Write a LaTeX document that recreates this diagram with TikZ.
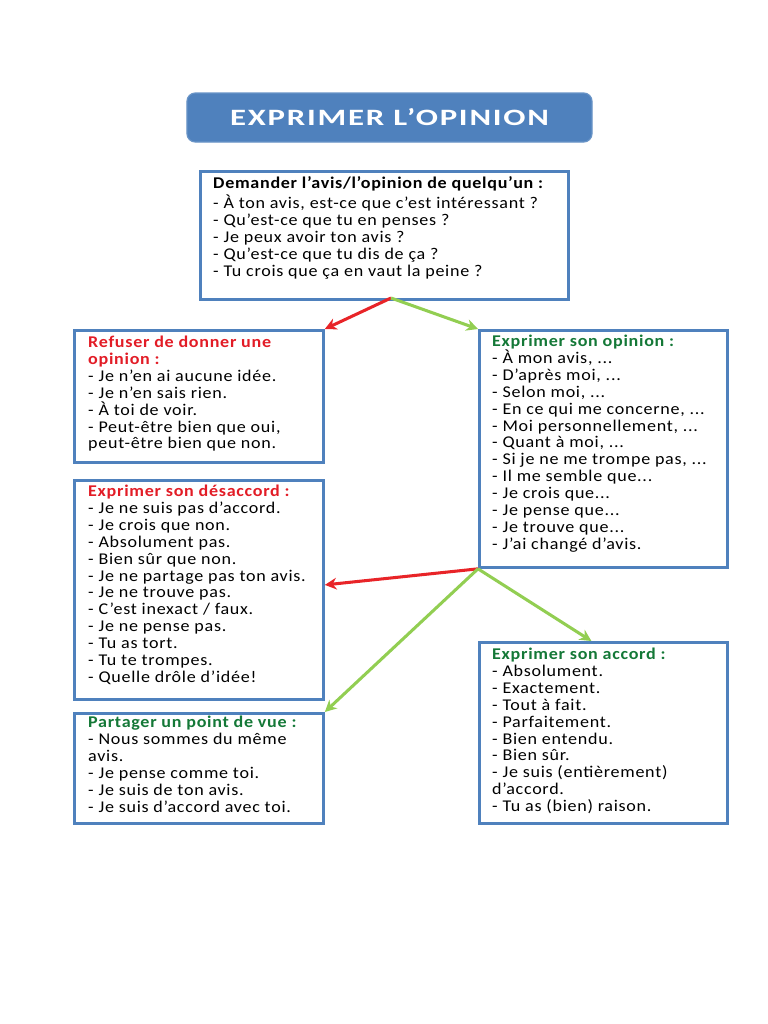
\documentclass[tikz,border=0pt]{standalone}
\usepackage{fontspec}
\setmainfont{Carlito}[FakeStretch=1.1,LetterSpace=4.4]
\newfontfamily\titlefont{Carlito}[FakeStretch=1.4,LetterSpace=7.5]
\usepackage{tikz}
\usetikzlibrary{arrows.meta}
\definecolor{boxblue}{RGB}{79,129,189}
\definecolor{hdred}{RGB}{226,28,38}
\definecolor{hdgreen}{RGB}{20,120,55}
\definecolor{arrred}{RGB}{232,36,40}
\definecolor{arrgreen}{RGB}{146,206,82}

\begin{document}
\begin{tikzpicture}[x=0.03cm,y=0.03cm]
\tikzstyle{every node}+=[inner sep=0pt]
\tikzstyle{panel}=[draw=boxblue,line width=2.4pt,anchor=north west]
\tikzstyle{body}=[anchor=north west,align=left,font=\fontsize{14}{14.4}\selectfont]
\tikzstyle{link}=[line width=2.6pt,-{Stealth[length=10pt,width=10pt]}]
\useasboundingbox (0,0) rectangle (768,-1024);
\node [fill=boxblue,draw=boxblue!85!white,line width=1pt,rounded corners=7pt,minimum width=12.15cm,minimum height=1.47cm,text=white,font=\titlefont\bfseries\fontsize{20}{24}\selectfont] (title) at (389.5,-117.5) {EXPRIMER L’OPINION};
\node [panel,minimum width=11.04cm,minimum height=3.84cm] (ask) at (199,-170) {};
\node [body] (asktext) at (213,-176) {\textbf{Demander l’avis/l’opinion de quelqu’un :}\\[3pt]
- À ton avis, est-ce que c’est intéressant ?\\
- Qu’est-ce que tu en penses ?\\
- Je peux avoir ton avis ?\\
- Qu’est-ce que tu dis de ça ?\\
- Tu crois que ça en vaut la peine ?};
\node [panel,minimum width=7.47cm,minimum height=3.96cm] (refuse) at (73,-329) {};
\node [body] (refusetext) at (88,-336) {\textbf{\color{hdred}Refuser de donner une}\\
\textbf{\color{hdred}opinion :}\\
- Je n’en ai aucune idée.\\
- Je n’en sais rien.\\
- À toi de voir.\\
- Peut-être bien que oui,\\
peut-être bien que non.};
\node [panel,minimum width=7.44cm,minimum height=7.11cm] (opinion) at (478,-329) {};
\node [body] (opiniontext) at (492,-335) {\textbf{\color{hdgreen}Exprimer son opinion :}\\
- À mon avis, ...\\
- D’après moi, ...\\
- Selon moi, ...\\
- En ce qui me concerne, ...\\
- Moi personnellement, ...\\
- Quant à moi, ...\\
- Si je ne me trompe pas, ...\\
- Il me semble que...\\
- Je crois que...\\
- Je pense que...\\
- Je trouve que...\\
- J’ai changé d’avis.};
\node [panel,minimum width=7.47cm,minimum height=6.57cm] (disagree) at (73,-479) {};
\node [body] (disagreetext) at (88,-485) {\textbf{\color{hdred}Exprimer son désaccord :}\\
- Je ne suis pas d’accord.\\
- Je crois que non.\\
- Absolument pas.\\
- Bien sûr que non.\\
- Je ne partage pas ton avis.\\
- Je ne trouve pas.\\
- C’est inexact / faux.\\
- Je ne pense pas.\\
- Tu as tort.\\
- Tu te trompes.\\
- Quelle drôle d’idée!};
\node [panel,minimum width=7.47cm,minimum height=3.30cm] (share) at (73,-712) {};
\node [body] (sharetext) at (88,-716) {\textbf{\color{hdgreen}Partager un point de vue :}\\
- Nous sommes du même\\
avis.\\
- Je pense comme toi.\\
- Je suis de ton avis.\\
- Je suis d’accord avec toi.};
\node [panel,minimum width=7.44cm,minimum height=5.43cm] (agree) at (478,-641) {};
\node [body] (agreetext) at (492,-648) {\textbf{\color{hdgreen}Exprimer son accord :}\\
- Absolument.\\
- Exactement.\\
- Tout à fait.\\
- Parfaitement.\\
- Bien entendu.\\
- Bien sûr.\\
- Je suis (entièrement)\\
d’accord.\\
- Tu as (bien) raison.};
\coordinate (fork) at (391,-298);
\draw [link,arrred] (fork) -- (refuse.north east);
\draw [link,arrgreen] (fork) -- (opinion.north west);
\draw [link,arrred] (opinion.south west) -- ([yshift=0.15cm]disagree.east);
\draw [link,arrgreen] (opinion.south west) -- ([xshift=-0.36cm]agree.north);
\draw [link,arrgreen] (opinion.south west) -- (share.north east);
\end{tikzpicture}
\end{document}
